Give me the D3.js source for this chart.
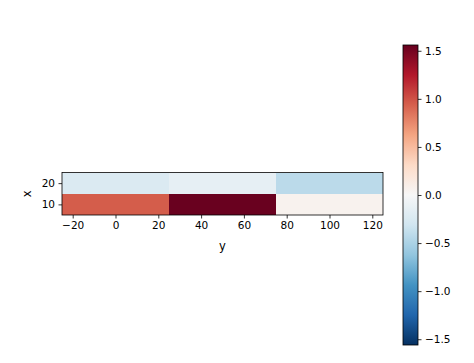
<!DOCTYPE html>
<html lang="en">
<head>
<meta charset="utf-8">
<title>Heatmap</title>
<script type="text/javascript" src="https://cdn.jsdelivr.net/npm/d3@7"></script>
<style>
  body { margin: 0; background: #fff; }
  text { font-family: "DejaVu Sans", sans-serif; font-size: 10.5px; fill: #000; }
</style>
</head>
<body>
<div id="bod"></div>
<script type="text/javascript">
// data
const xRows = [10, 20];          // row centres (axis label "x")
const yCols = [0, 50, 100];      // column centres (axis label "y")
const values = [
  [0.95, 1.55, 0.06],            // x = 10
  [-0.23, -0.14, -0.42]          // x = 20
];
const xTicks = [-20, 0, 20, 40, 60, 80, 100, 120];
const yTicks = [10, 20];
const cbTicks = [-1.5, -1.0, -0.5, 0.0, 0.5, 1.0, 1.5];
const vlim = 1.56;

// matplotlib RdBu_r (ColorBrewer, linear segments)
const rdbu = ["#67001f", "#b2182b", "#d6604d", "#f4a582", "#fddbc7", "#f7f7f7",
              "#d1e5f0", "#92c5de", "#4393c3", "#2166ac", "#053061"].reverse();
const cmap = d3.scaleLinear()
  .domain(d3.range(rdbu.length).map(i => -vlim + 2 * vlim * i / (rdbu.length - 1)))
  .range(rdbu)
  .interpolate(d3.interpolateRgb)
  .clamp(true);

const w = 474, h = 363;
const svg = d3.select("#bod").append("svg").attr("width", w).attr("height", h);

const xScale = d3.scaleLinear().domain([-25, 125]).range([62, 383]);
const yScale = d3.scaleLinear().domain([5, 25]).range([215, 172.5]);

const cells = [];
xRows.forEach((xv, i) => yCols.forEach((yv, j) => cells.push({xv, yv, v: values[i][j]})));

svg.append("g")
  .selectAll("rect")
  .data(cells)
  .enter()
  .append("rect")
  .attr("x", d => xScale(d.yv - 25))
  .attr("y", d => yScale(d.xv + 5))
  .attr("width", d => xScale(d.yv + 25) - xScale(d.yv - 25))
  .attr("height", d => yScale(d.xv - 5) - yScale(d.xv + 5))
  .attr("fill", d => cmap(d.v))
  .attr("shape-rendering", "crispEdges");

const fmtMinus = s => s.replace("-", "\u2212");

const xAxis = d3.axisBottom(xScale).tickValues(xTicks).tickSize(3.5).tickPadding(3.5)
  .tickFormat(d => fmtMinus(String(d)));
const yAxis = d3.axisLeft(yScale).tickValues(yTicks).tickSize(3.5).tickPadding(3.5);

const gx = svg.append("g").attr("transform", "translate(0,215)").call(xAxis);
const gy = svg.append("g").attr("transform", "translate(62,0)").call(yAxis);
[gx, gy].forEach(g => {
  g.select(".domain").remove();
  g.selectAll("text").attr("font-size", null).attr("font-family", null);
  g.selectAll("line").attr("stroke", "#000").attr("stroke-width", 0.8);
});

svg.append("rect")
  .attr("x", 62).attr("y", 172.5).attr("width", 321).attr("height", 42.5)
  .attr("fill", "none").attr("stroke", "#000").attr("stroke-width", 0.8);

svg.append("text").attr("x", (62 + 383) / 2).attr("y", 250)
  .attr("text-anchor", "middle").style("font-size", "11.5px").text("y");
svg.append("text").attr("transform", "translate(31,193.75) rotate(-90)")
  .attr("text-anchor", "middle").style("font-size", "11.5px").text("x");

// colorbar
const cbX = 403, cbW = 15;
const cbScale = d3.scaleLinear().domain([-vlim, vlim]).range([345, 45]);
const grad = svg.append("defs").append("linearGradient")
  .attr("id", "cbgrad").attr("x1", 0).attr("y1", 1).attr("x2", 0).attr("y2", 0);
grad.selectAll("stop")
  .data(d3.range(0, 1.0001, 0.02))
  .enter()
  .append("stop")
  .attr("offset", d => d)
  .attr("stop-color", d => cmap(-vlim + 2 * vlim * d));

svg.append("rect")
  .attr("x", cbX).attr("y", 45).attr("width", cbW).attr("height", 300)
  .attr("fill", "url(#cbgrad)")
  .attr("stroke", "#000").attr("stroke-width", 0.8);

const cbAxis = d3.axisRight(cbScale).tickValues(cbTicks).tickSize(3.5).tickPadding(3.5)
  .tickFormat(d => fmtMinus(d3.format(".1f")(d)));
const gc = svg.append("g").attr("transform", "translate(" + (cbX + cbW) + ",0)").call(cbAxis);
gc.select(".domain").remove();
gc.selectAll("text").attr("font-size", null).attr("font-family", null);
gc.selectAll("line").attr("stroke", "#000").attr("stroke-width", 0.8);
</script>
</body>
</html>
